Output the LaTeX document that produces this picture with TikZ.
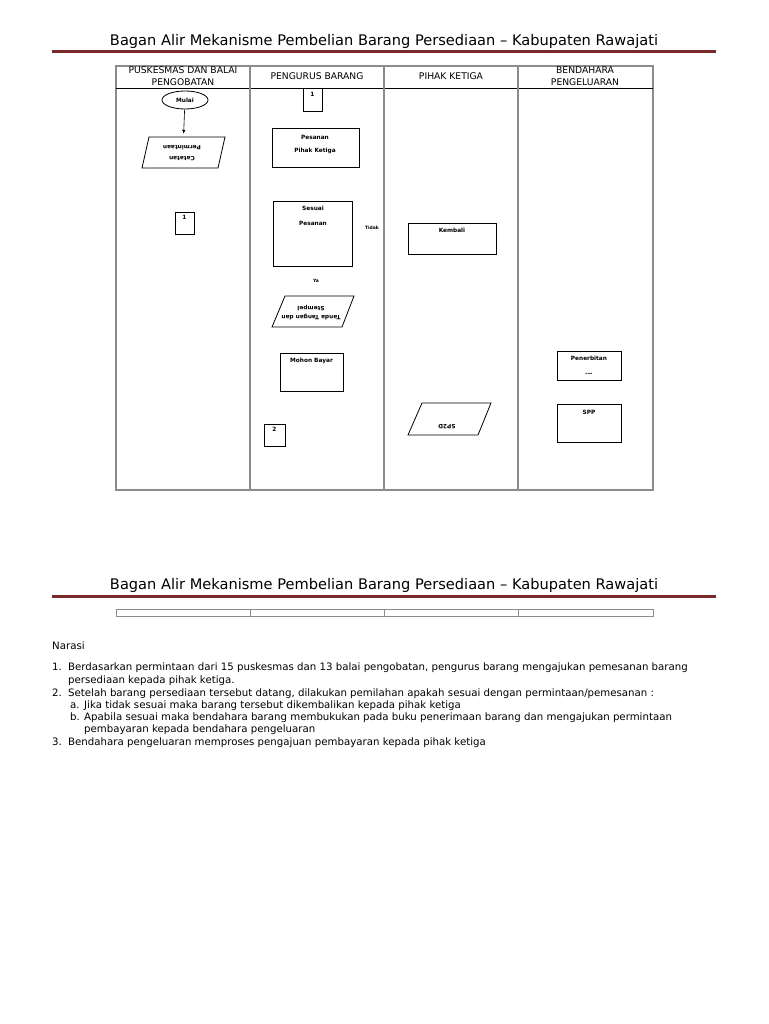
\documentclass[tikz,border=0pt]{standalone}
\usepackage{fontspec}
\setmainfont{DejaVu Sans}
\usetikzlibrary{arrows.meta,shapes.geometric}
\definecolor{rulered}{HTML}{7A2A2A}
\begin{document}
\begin{tikzpicture}[x=1pt,y=-1pt,
  box/.style={draw=black,line width=0.8pt,rectangle,inner sep=0},
  para/.style={draw=black,line width=0.8pt},
  lbl/.style={font=\fontsize{5.8}{9}\selectfont\bfseries,align=center,inner sep=0},
  tiny/.style={font=\fontsize{4.5}{5}\selectfont\bfseries,inner sep=0},
  hdr/.style={font=\fontsize{9.2}{12}\selectfont,align=center,inner sep=0},
  grid/.style={draw=black!45,line width=1.2pt},
  ttl/.style={font=\fontsize{14.6}{16}\selectfont,inner sep=0,anchor=base},
  narr/.style={font=\fontsize{10.2}{12}\selectfont,anchor=base west,inner sep=0},
  redrule/.style={draw=rulered,line width=3pt}]
\useasboundingbox (0,0) rectangle (768,1024);
% ---------- page 1 title ----------
\node[ttl] (t1) at (384,46) {Bagan Alir Mekanisme Pembelian Barang Persediaan – Kabupaten Rawajati};
\coordinate (r1a) at (52,52); \coordinate (r1b) at (716,52);
\draw[redrule] (r1a) -- (r1b);
% ---------- table ----------
\draw[grid] (116,66) rectangle (653,490);
\draw[black,line width=0.8pt] (116,88) -- (653,88);
\draw[grid] (250,66) -- (250,490);
\draw[grid] (384,66) -- (384,490);
\draw[grid] (518,66) -- (518,490);
\node[hdr] (h1) at (183,76) {PUSKESMAS DAN BALAI\\PENGOBATAN};
\node[hdr] (h2) at (317,76) {PENGURUS BARANG};
\node[hdr] (h3) at (451,76) {PIHAK KETIGA};
\node[hdr] (h4) at (585,76) {BENDAHARA\\PENGELUARAN};
% ---------- column 1 ----------
\node[draw,ellipse,line width=0.8pt,minimum width=46,minimum height=18,lbl] (mulai) at (185,100) {Mulai};
\node[minimum width=76,minimum height=31,inner sep=0] (cat) at (183.5,152.5) {};
\draw[para] (149,137) -- (225,137) -- (218,168) -- (142,168) -- cycle;
\node[lbl,rotate=180,font=\fontsize{5.8}{11}\selectfont\bfseries] (catt) at (182,153.5) {Catatan\\Permintaan};
\draw[line width=0.6pt,-{Latex[length=4,width=3.5]},shorten >=3] (mulai) -- (cat.north);
\node[box,minimum width=19,minimum height=22] (c1) at (184.5,223) {};
\node[lbl] (c1t) at (184.5,217) {1};
% ---------- column 2 ----------
\node[box,minimum width=19,minimum height=23] (c2) at (312.5,99.5) {};
\node[lbl] (c2t) at (312.5,94) {1};
\node[box,minimum width=87,minimum height=39] (pes) at (315.5,147.5) {};
\node[lbl] (pest1) at (315,137) {Pesanan};
\node[lbl] (pest2) at (315,151) {Pihak Ketiga};
\node[box,minimum width=79,minimum height=65] (ses) at (312.5,233.5) {};
\node[lbl] (sest1) at (313,208) {Sesuai};
\node[lbl] (sest2) at (313,223) {Pesanan};
\node[tiny] (tidak) at (372,228) {Tidak};
\node[tiny] (ya) at (316,281) {Ya};
\draw[para] (285,296) -- (354,296) -- (342,327) -- (272,327) -- cycle;
\node[lbl,rotate=180] (ttd) at (311,312.5) {Tanda Tangan dan\\Stempel};
\node[box,minimum width=63,minimum height=38] (mohon) at (311.5,372) {};
\node[lbl] (mohont) at (311.5,361) {Mohon Bayar};
\node[box,minimum width=21,minimum height=22] (c2b) at (274.5,435) {};
\node[lbl] (c2bt) at (274.5,429) {2};
% ---------- column 3 ----------
\node[box,minimum width=88,minimum height=31] (kem) at (452,238.5) {};
\node[lbl] (kemt) at (452,230) {Kembali};
\draw[para] (422,403) -- (491,403) -- (478,435) -- (408,435) -- cycle;
\node[lbl,rotate=180] (sp2d) at (447,427) {SP2D};
% ---------- column 4 ----------
\node[box,minimum width=64,minimum height=29] (pen) at (589,365.5) {};
\node[lbl] (pent1) at (589,358) {Penerbitan};
\node[lbl] (pent2) at (589,374) {{-}{-}{-}};
\node[box,minimum width=64,minimum height=38] (spp) at (589,423) {};
\node[lbl] (sppt) at (589,412) {SPP};
% ---------- page 2 ----------
\node[ttl] (t2) at (384,589) {Bagan Alir Mekanisme Pembelian Barang Persediaan – Kabupaten Rawajati};
\coordinate (r2a) at (52,596); \coordinate (r2b) at (716,596);
\draw[redrule] (r2a) -- (r2b);
\draw[draw=black!45,line width=1pt] (116,609) rectangle (653,616);
\draw[draw=black!45,line width=0.8pt] (250,609) -- (250,616);
\draw[draw=black!45,line width=0.8pt] (384,609) -- (384,616);
\draw[draw=black!45,line width=0.8pt] (518,609) -- (518,616);
% ---------- narasi ----------
\node[narr] (nar) at (52,649) {Narasi};
\node[narr] (n1) at (52,670) {1.};
\node[narr] (n1a) at (68,670) {Berdasarkan permintaan dari 15 puskesmas dan 13 balai pengobatan, pengurus barang mengajukan pemesanan barang};
\node[narr] (n1b) at (68,683) {persediaan kepada pihak ketiga.};
\node[narr] (n2) at (52,696) {2.};
\node[narr] (n2a) at (68,696) {Setelah barang persediaan tersebut datang, dilakukan pemilahan apakah sesuai dengan permintaan/pemesanan :};
\node[narr] (na) at (70,708) {a.};
\node[narr] (naa) at (84,708) {Jika tidak sesuai maka barang tersebut dikembalikan kepada pihak ketiga};
\node[narr] (nb) at (70,720) {b.};
\node[narr] (nba) at (84,720) {Apabila sesuai maka bendahara barang membukukan pada buku penerimaan barang dan mengajukan permintaan};
\node[narr] (nbb) at (84,732) {pembayaran kepada bendahara pengeluaran};
\node[narr] (n3) at (52,745) {3.};
\node[narr] (n3a) at (68,745) {Bendahara pengeluaran memproses pengajuan pembayaran kepada pihak ketiga};
\end{tikzpicture}
\end{document}
